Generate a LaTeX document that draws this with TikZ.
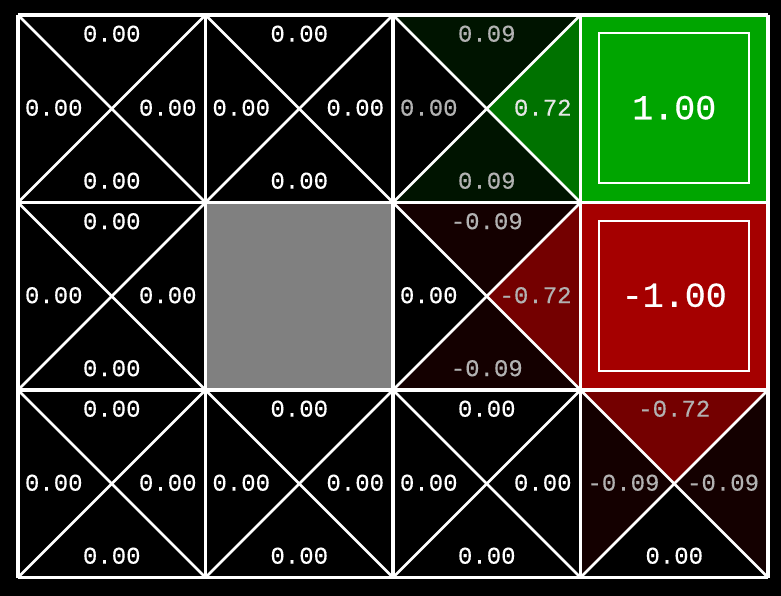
\documentclass[tikz,border=0pt]{standalone}
\usepackage{fontspec}
\setmonofont{Liberation Mono}
\newfontfamily\qfont{Liberation Mono}[BoldFont={Liberation Mono}, BoldFeatures={FakeBold=0.35}]
\usepackage{tikz}
\usetikzlibrary{calc}

\definecolor{goalgreen}{RGB}{0,165,0}
\definecolor{goalred}{RGB}{165,0,0}
\definecolor{qgreen}{RGB}{0,114,0}
\definecolor{qred}{RGB}{116,0,0}
\definecolor{qgreenlow}{RGB}{0,20,0}
\definecolor{qredlow}{RGB}{20,0,0}
\definecolor{wallgray}{RGB}{128,128,128}
\definecolor{txtgray}{RGB}{178,178,178}
\definecolor{txtlight}{RGB}{230,230,230}

\begin{document}
\begin{tikzpicture}[x=1pt, y=-1pt,
  % grid and diagonal lines
  gridline/.style={draw=white, line width=3.2pt},
  diagline/.style={draw=white, line width=2.5pt},
  % value labels
  qval/.style={font=\qfont\bfseries\fontsize{24}{24}\selectfont, text=white, inner sep=0pt},
  qvalgray/.style={qval, text=txtgray},
  goalval/.style={font=\qfont\bfseries\fontsize{35}{35}\selectfont, text=white, inner sep=0pt},
  goalframe/.style={draw=white, line width=2pt}
]
  % Background
  \fill[black] (0,0) rectangle (781,596);
  \useasboundingbox (0,0) rectangle (781,596);

  % Cell corners: column c at x = 18+187.5c, row r at y = 15+187.5r
  \foreach \c in {0,...,4} {
    \foreach \r in {0,...,3} {
      \coordinate (p-\c-\r) at ({18+187.5*\c},{15+187.5*\r});
    }
  }
  \foreach \c in {0,...,3} {
    \foreach \r in {0,...,2} {
      \coordinate (m-\c-\r) at ({111.75+187.5*\c},{108.75+187.5*\r});
    }
  }

  % --- Coloured triangles ---
  % cell (2,0): pushing right towards the green goal
  \fill[qgreenlow] (p-2-0) -- (p-3-0) -- (m-2-0) -- cycle;
  \fill[qgreen]    (p-3-0) -- (p-3-1) -- (m-2-0) -- cycle;
  \fill[qgreenlow] (p-2-1) -- (p-3-1) -- (m-2-0) -- cycle;
  % cell (2,1): next to the red goal
  \fill[qredlow] (p-2-1) -- (p-3-1) -- (m-2-1) -- cycle;
  \fill[qred]    (p-3-1) -- (p-3-2) -- (m-2-1) -- cycle;
  \fill[qredlow] (p-2-2) -- (p-3-2) -- (m-2-1) -- cycle;
  % cell (3,2): below the red goal
  \fill[qred]    (p-3-2) -- (p-4-2) -- (m-3-2) -- cycle;
  \fill[qredlow] (p-3-2) -- (p-3-3) -- (m-3-2) -- cycle;
  \fill[qredlow] (p-4-2) -- (p-4-3) -- (m-3-2) -- cycle;

  % Wall and goal cells
  \fill[wallgray]  (p-1-1) rectangle (p-2-2);
  \fill[goalgreen] (p-3-0) rectangle (p-4-1);
  \fill[goalred]   (p-3-1) rectangle (p-4-2);

  % Diagonals of the ordinary cells
  \foreach \c/\r in {0/0, 1/0, 2/0, 0/1, 2/1, 0/2, 1/2, 2/2, 3/2} {
    \pgfmathtruncatemacro{\cn}{\c+1}
    \pgfmathtruncatemacro{\rn}{\r+1}
    \draw[diagline] (p-\c-\r) -- (p-\cn-\rn);
    \draw[diagline] (p-\cn-\r) -- (p-\c-\rn);
  }

  % Grid
  \foreach \c in {0,...,4} {
    \draw[gridline] (p-\c-0) -- (p-\c-3);
  }
  \foreach \r in {0,...,3} {
    \draw[gridline] (p-0-\r) -- (p-4-\r);
  }

  % Goal frames and values
  \draw[goalframe] ($(p-3-0)+(18,18)$) rectangle ($(p-4-1)+(-19,-19)$);
  \draw[goalframe] ($(p-3-1)+(18,18)$) rectangle ($(p-4-2)+(-19,-19)$);
  \node[goalval] (goal-win)  at ($(m-3-0)+(0,-1)$) {1.00};
  \node[goalval] (goal-lose) at ($(m-3-1)+(0,-1)$) {-1.00};

  % Labels of the all-zero cells
  \foreach \c/\r in {0/0, 1/0, 0/1, 0/2, 1/2, 2/2} {
    \node[qval] (up-\c-\r)    at ($(m-\c-\r)+(0,-75)$) {0.00};
    \node[qval] (down-\c-\r)  at ($(m-\c-\r)+(0,72)$)  {0.00};
    \node[qval, anchor=west] (left-\c-\r)  at ($(m-\c-\r)+(-87,-1)$) {0.00};
    \node[qval, anchor=east] (right-\c-\r) at ($(m-\c-\r)+(85,-1)$)  {0.00};
  }

  % Cell (2,0)
  \node[qvalgray] (up-2-0)   at ($(m-2-0)+(0,-75)$) {0.09};
  \node[qvalgray] (down-2-0) at ($(m-2-0)+(0,72)$)  {0.09};
  \node[qvalgray, anchor=west] (left-2-0) at ($(m-2-0)+(-87,-1)$) {0.00};
  \node[qval, text=txtlight, anchor=east] (right-2-0) at ($(m-2-0)+(85,-1)$) {0.72};

  % Cell (2,1)
  \node[qvalgray] (up-2-1)   at ($(m-2-1)+(0,-75)$) {-0.09};
  \node[qvalgray] (down-2-1) at ($(m-2-1)+(0,72)$)  {-0.09};
  \node[qval, anchor=west] (left-2-1) at ($(m-2-1)+(-87,-1)$) {0.00};
  \node[qvalgray, anchor=east] (right-2-1) at ($(m-2-1)+(85,-1)$) {-0.72};

  % Cell (3,2)
  \node[qvalgray] (up-3-2)   at ($(m-3-2)+(0,-75)$) {-0.72};
  \node[qval]     (down-3-2) at ($(m-3-2)+(0,72)$)  {0.00};
  \node[qvalgray, anchor=west] (left-3-2)  at ($(m-3-2)+(-87,-1)$) {-0.09};
  \node[qvalgray, anchor=east] (right-3-2) at ($(m-3-2)+(85,-1)$)  {-0.09};
\end{tikzpicture}
\end{document}
